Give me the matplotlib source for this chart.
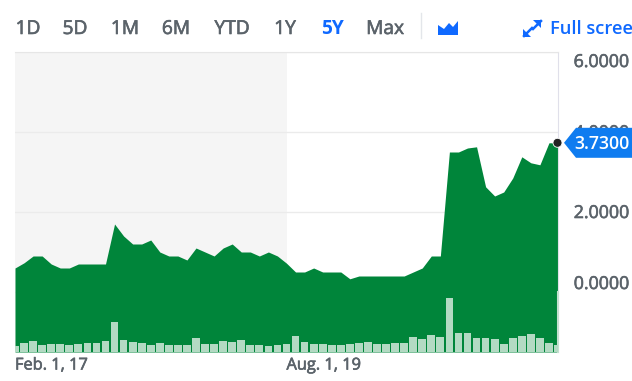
import matplotlib
matplotlib.use('Agg')
import matplotlib.pyplot as plt
import matplotlib.patheffects as pe
from matplotlib.patches import Polygon, Circle
import numpy as np

W, H = 632, 381

# monthly close, Feb 2017 onwards
price = [0.60, 0.73, 0.90, 0.90, 0.70, 0.60, 0.60, 0.70, 0.70, 0.70,
         0.70, 1.70, 1.40, 1.20, 1.20, 1.30, 1.00, 0.90, 0.90, 0.80,
         1.10, 1.00, 0.90, 1.10, 1.20, 1.00, 1.00, 0.90, 1.00, 0.90,
         0.72, 0.50, 0.50, 0.60, 0.50, 0.50, 0.50, 0.33, 0.40, 0.40,
         0.40, 0.40, 0.40, 0.40, 0.50, 0.60, 0.90, 0.90, 3.50, 3.50,
         3.60, 3.63, 2.63, 2.40, 2.50, 2.85, 3.38, 3.23, 3.18, 3.73,
         3.73]
# volume, relative units
volume = [6.3, 8.7, 10.7, 7.0, 8.0, 8.0, 6.7, 8.0, 8.7, 8.7,
          10.7, 30.0, 11.7, 9.7, 8.7, 7.3, 8.7, 7.0, 7.3, 7.3,
          13.7, 7.7, 8.0, 10.7, 10.3, 12.0, 7.3, 6.7, 6.3, 6.7,
          8.0, 16.3, 10.3, 7.7, 7.7, 7.3, 7.3, 8.3, 9.3, 10.3,
          7.7, 8.0, 8.7, 8.7, 14.7, 12.7, 16.7, 14.7, 54.3, 19.3,
          19.0, 13.7, 14.0, 12.7, 8.3, 14.0, 15.7, 18.0, 13.7, 8.7,
          6.7]
months = np.arange(len(price))

y_ticks = [6, 4, 2, 0]
x_tick_pos = [0, 30]
x_tick_labels = ['Feb. 1, 17', 'Aug. 1, 19']
ranges = ['1D', '5D', '1M', '6M', 'YTD', '1Y', '5Y', 'Max']
range_x = [28, 75, 125, 176, 232, 285, 332, 385]
last_price = price[-1]

GREY = '#5b636a'
BLUE = '#0f69ff'
GREEN = '#00853a'
plt.rcParams['font.family'] = ['Open Sans', 'DejaVu Sans']

# a thin stroke, the reference text is a bit heavier than Open Sans regular
heavy = [pe.withStroke(linewidth=0.45, foreground=GREY)]

fig = plt.figure(figsize=(W / 100, H / 100), dpi=100)

# full-figure pixel canvas for toolbar, icons and price tag
top = fig.add_axes([0, 0, 1, 1], zorder=5)
top.set_xlim(0, W)
top.set_ylim(H, 0)
top.axis('off')
top.patch.set_alpha(0)

l, r, t, b = 15, 558, 52, 352
ax = fig.add_axes([l / W, 1 - b / H, (r - l) / W, (b - t) / H])
ax.set_xlim(0, 60)
ax.set_ylim(-1.5, 6)
ax.axvspan(0, 30, color='#f5f5f5', lw=0, zorder=0)
for v in y_ticks:
    ax.axhline(v, color='#ebebeb', lw=1, zorder=1)
ax.fill_between(months, price, -1.5, color=GREEN, lw=0, zorder=2)
for s in ['left', 'bottom']:
    ax.spines[s].set_visible(False)
ax.spines['top'].set_color('#e6e6e6')
ax.spines['right'].set_color('#e0e0ea')
ax.set_yticks([])
ax.set_xticks(x_tick_pos)
ax.set_xticklabels(x_tick_labels, fontsize=11.8, color=GREY, ha='left', path_effects=heavy)
ax.tick_params(axis='x', length=0, pad=4)

# volume bars, scaled so 300 units fill the plot height
vol = ax.twinx()
vol.set_ylim(0, 300)
vol.set_yticks([])
for s in vol.spines.values():
    s.set_visible(False)
vol.bar(months, volume, width=0.86, color='#b3dac3', lw=0, zorder=3)
vol.set_xlim(0, 60)
vol.axvline(60, ymax=0.2, color='#c4e0cf', lw=1.5, clip_on=False)

# y labels, hand placed because the 0 label sits above its gridline
label_y = [62, 133, 213, 284]
for v, py in zip(y_ticks, label_y):
    top.text(629, py, f'{v:.4f}', ha='right', va='center', fontsize=12.8, color=GREY,
             path_effects=heavy)

# toolbar
for name, px in zip(ranges, range_x):
    active = name == '5Y'
    top.text(px, 29, name, ha='center', va='center', fontsize=13.8,
             color=BLUE if active else GREY, fontweight='bold' if active else 'normal',
             path_effects=None if active else heavy)
top.plot([421, 421], [13, 38], color='#e3e6ea', lw=1)
top.add_patch(Polygon([(438, 35), (438, 25), (444, 29), (449, 23), (453, 27), (458, 21), (458, 35)],
                      color=BLUE, lw=0))
top.plot([524, 532], [36, 28], color=BLUE, lw=1.8)
top.plot([533, 541], [29, 21], color=BLUE, lw=1.8)
top.add_patch(Polygon([(523, 37), (523, 29), (531, 37)], color=BLUE, lw=0))
top.add_patch(Polygon([(541, 20), (541, 28), (533, 20)], color=BLUE, lw=0))
top.text(550, 29, 'Full scree', ha='left', va='center', fontsize=13.2, color=BLUE,
         fontweight='semibold')

# price tag and last point
py = b - (last_price + 1.5) / 7.5 * (b - t)
top.add_patch(Polygon([(564, py), (576, py - 15), (632, py - 15), (632, py + 15), (576, py + 15)],
                      color='#0f7cf0', lw=0, zorder=6))
top.text(602, py + 1, f'{last_price:.4f}', ha='center', va='center', fontsize=12.8, color='white',
         fontweight='semibold', zorder=7)
top.add_patch(Circle((557.5, py), 4.5, facecolor='#222222', edgecolor='white', lw=0.6, zorder=7))

plt.savefig('out.png', dpi=100)
plt.close()
